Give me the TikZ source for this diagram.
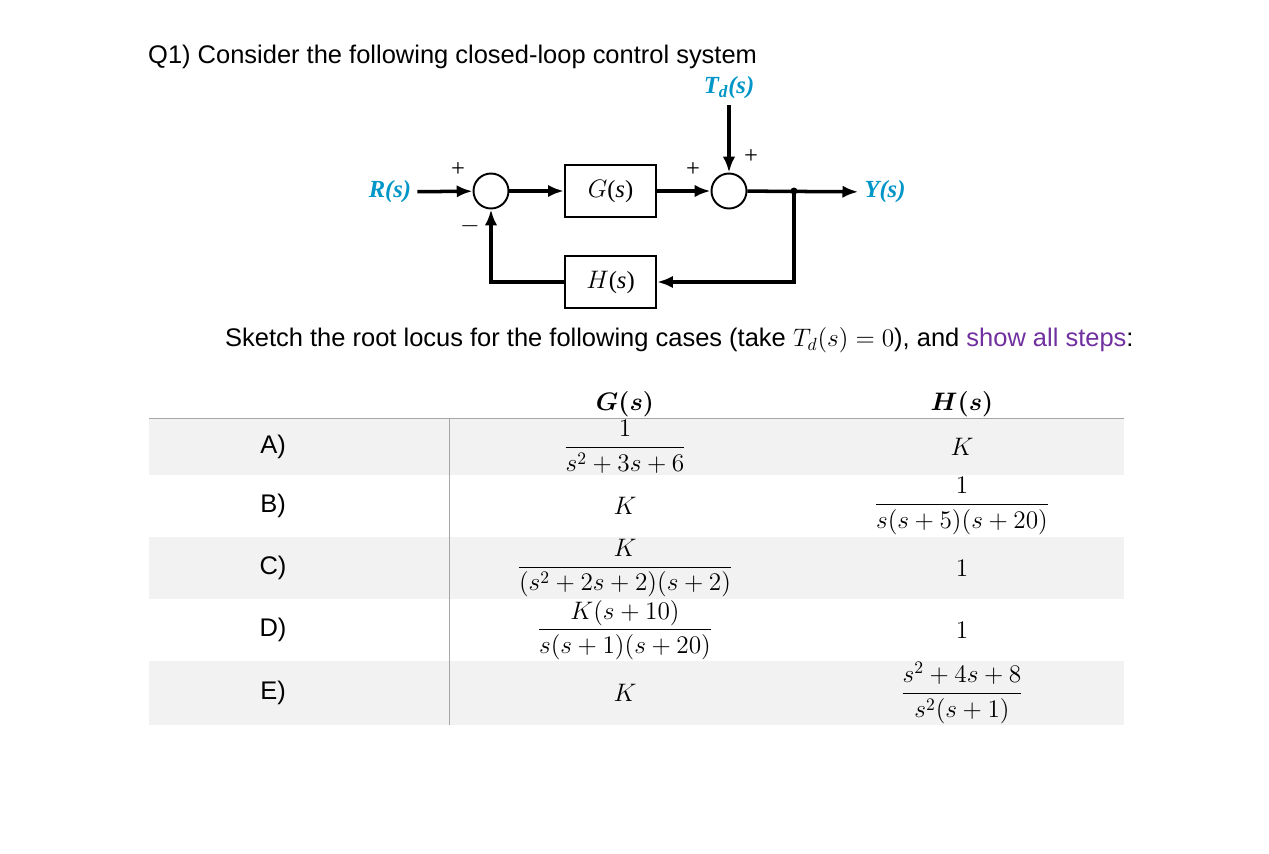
\documentclass[tikz,border=0pt]{standalone}
\usepackage{amsmath}
\usepackage{fontspec}
\setmainfont{Liberation Sans}
\newfontfamily\bdfont{Liberation Serif}
\usetikzlibrary{arrows.meta,positioning}
\definecolor{lblblue}{RGB}{0,150,200}
\definecolor{steppurple}{RGB}{112,48,160}
\definecolor{rowgray}{RGB}{242,242,242}
\begin{document}
\begin{tikzpicture}[x=0.02cm,y=-0.02cm,
  blk/.style={draw,line width=1.3pt,minimum width=1.82cm,minimum height=1.05cm,font=\bdfont\fontsize{14}{16}\selectfont},
  sumc/.style={draw,circle,line width=1.1pt,minimum size=0.7cm,inner sep=0pt},
  sig/.style={line width=2pt,-{Latex[length=9pt,width=7pt]}},
  lbl/.style={text=lblblue,font=\bdfont\fontsize{14}{16}\selectfont\bfseries\itshape},
  sgn/.style={font=\bdfont\fontsize{14}{16}\selectfont},
  txt/.style={anchor=west,font=\fontsize{14.5}{17}\selectfont},
  cell/.style={font=\fontsize{14.5}{16}\selectfont}]
\useasboundingbox (0,0) rectangle (1269,853);

\node[txt] (title) at (142,57) {Q1) Consider the following closed-loop control system};

% block diagram
\node[sumc] (s1) at (491,191) {};
\node[blk] (G) at (610.5,191) {$G$(\textit{s})};
\node[sumc] (s2) at (729,191) {};
\node[blk] (H) at (610.5,282) {$H$(\textit{s})};
\coordinate (br) at (794,191);
\node[lbl] (R) at (390,192) {R(s)};
\node[lbl] (Y) at (885,192) {Y(s)};
\node[lbl] (Td) at (729,88) {T\textsubscript{\textit{d}}(s)};
\draw[sig] (R) -- (s1);
\draw[sig] (s1) -- (G);
\draw[sig] (G) -- (s2);
\draw[sig] (s2) -- (Y);
\draw[sig] (Td) -- (s2);
\draw[sig] (br) |- (H);
\draw[sig] (H) -| (s1);
\fill (br) circle (3.5);
\node[sgn] at (458,170) {+};
\node[sgn] at (470,226) {$-$};
\node[sgn] at (693,170) {+};
\node[sgn] at (751,157) {+};

\node[txt] (task) at (219,340) {Sketch the root locus for the following cases (take $T_d(s)=0$), and \textcolor{steppurple}{show all steps}:};

% table
\foreach \ya/\yb in {418/475,537/599,661/725}
  \fill[rowgray] (149,\ya) rectangle (1124,\yb);
\draw[gray!70] (149,418) -- (1124,418);
\draw[gray!70] (449,418) -- (449,725);
\node[cell] (hg) at (625,404) {$\boldsymbol{G(s)}$};
\node[cell] (hh) at (962,404) {$\boldsymbol{H(s)}$};
\foreach \y/\r/\g/\h in {
  447/A)/{\dfrac{1}{s^2+3s+6}}/{K},
  506/B)/{K}/{\dfrac{1}{s(s+5)(s+20)}},
  568/C)/{\dfrac{K}{(s^2+2s+2)(s+2)}}/{1},
  630/D)/{\dfrac{K(s+10)}{s(s+1)(s+20)}}/{1},
  693/E)/{K}/{\dfrac{s^2+4s+8}{s^2(s+1)}}}{
  \node[cell,font=\fontsize{14.5}{17}\selectfont] (r\r) at (273,\y) {\r};
  \node[cell] (g\r) at (625,\y) {$\g$};
  \node[cell] (h\r) at (962,\y) {$\h$};
}
\end{tikzpicture}
\end{document}
